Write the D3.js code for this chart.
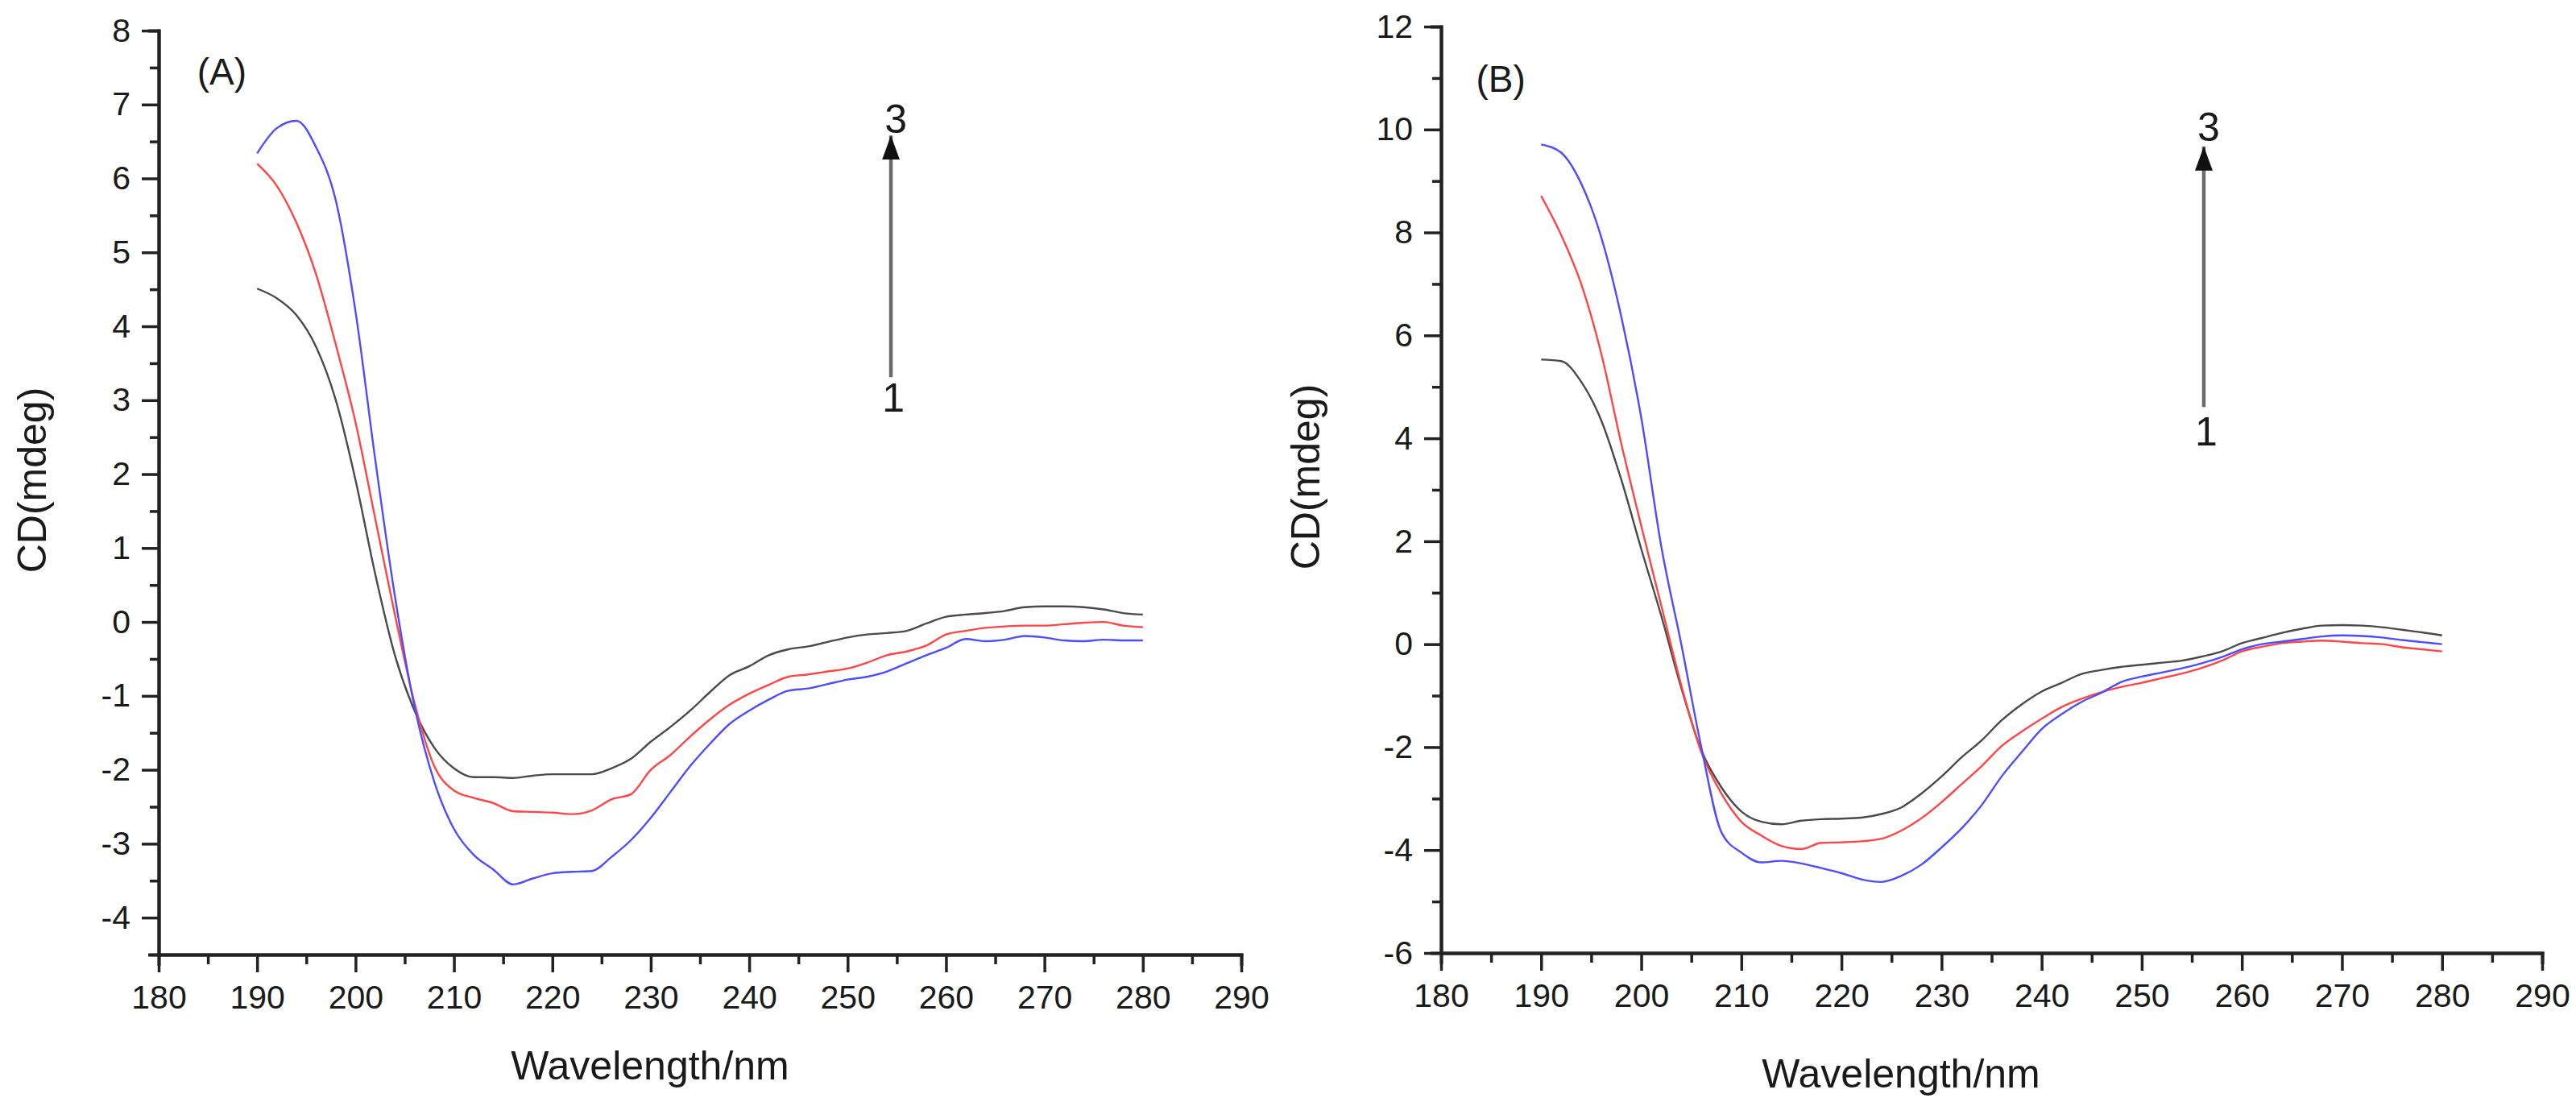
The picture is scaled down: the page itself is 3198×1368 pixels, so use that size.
<!DOCTYPE html>
<html>
<head>
<meta charset="utf-8">
<script src="https://cdn.jsdelivr.net/npm/d3@7"></script>
<style>
  body { margin: 0; background: #fff; }
  svg { display: block; }
  text { font-family: "Liberation Sans", Arial, sans-serif; fill: #1a1a1a; }
</style>
</head>
<body>
<svg id="chart" width="3198" height="1368"></svg>
<script>
// wavelength grid shared by every curve (nm)
const wavelengths = [190,192,194,196,198,200,202,204,206,208,210,212,214,216,218,220,
  222,224,226,228,230,232,234,236,238,240,242,244,246,248,250,252,254,256,258,260,
  262,264,266,268,270,272,274,276,278,280];

// panel (A) – CD in mdeg, curves 1 (black), 2 (red), 3 (blue)
const a1 = [4.51,4.38,4.15,3.72,3.0,1.92,0.65,-0.45,-1.2,-1.7,-1.98,-2.1,-2.1,-2.11,-2.08,-2.06,
  -2.06,-2.06,-1.98,-1.85,-1.62,-1.42,-1.2,-0.95,-0.72,-0.6,-0.45,-0.37,-0.33,-0.27,-0.21,-0.17,
  -0.15,-0.12,-0.02,0.07,0.1,0.12,0.15,0.2,0.21,0.21,0.2,0.17,0.12,0.1];
const a2 = [6.2,5.9,5.4,4.7,3.75,2.7,1.4,0.1,-1.1,-1.95,-2.28,-2.38,-2.45,-2.56,-2.57,-2.58,
  -2.6,-2.55,-2.4,-2.33,-2.0,-1.8,-1.55,-1.32,-1.12,-0.97,-0.85,-0.74,-0.71,-0.67,-0.63,-0.55,
  -0.45,-0.4,-0.32,-0.17,-0.12,-0.08,-0.06,-0.05,-0.05,-0.03,-0.01,0.0,-0.05,-0.07];
const a3 = [6.34,6.68,6.78,6.42,5.7,4.2,2.2,0.35,-1.15,-2.16,-2.8,-3.15,-3.35,-3.55,-3.47,-3.4,
  -3.38,-3.37,-3.18,-2.95,-2.65,-2.3,-1.95,-1.65,-1.38,-1.2,-1.05,-0.93,-0.9,-0.84,-0.78,-0.74,
  -0.67,-0.56,-0.45,-0.35,-0.23,-0.26,-0.24,-0.19,-0.21,-0.25,-0.26,-0.24,-0.25,-0.25];

// panel (B)
const b1 = [5.53,5.5,5.1,4.35,3.2,1.85,0.55,-0.85,-2.06,-2.78,-3.25,-3.45,-3.5,-3.43,-3.4,-3.39,
  -3.37,-3.3,-3.17,-2.9,-2.57,-2.2,-1.87,-1.48,-1.17,-0.92,-0.75,-0.58,-0.5,-0.44,-0.4,-0.36,
  -0.32,-0.24,-0.14,0.02,0.12,0.22,0.3,0.36,0.37,0.36,0.33,0.28,0.23,0.17];
const b2 = [8.71,7.95,7.0,5.65,3.9,2.3,0.75,-0.8,-2.1,-2.9,-3.45,-3.72,-3.92,-3.98,-3.86,-3.85,
  -3.83,-3.78,-3.62,-3.38,-3.07,-2.72,-2.37,-1.98,-1.7,-1.45,-1.22,-1.06,-0.93,-0.83,-0.75,-0.66,
  -0.57,-0.46,-0.32,-0.14,-0.05,0.02,0.05,0.07,0.05,0.02,0.0,-0.06,-0.1,-0.14];
const b3 = [9.71,9.55,8.95,7.91,6.37,4.4,1.9,0.0,-2.0,-3.65,-4.05,-4.24,-4.21,-4.26,-4.35,-4.45,
  -4.57,-4.62,-4.5,-4.28,-3.95,-3.58,-3.13,-2.57,-2.1,-1.65,-1.36,-1.12,-0.94,-0.73,-0.63,-0.55,
  -0.47,-0.37,-0.25,-0.1,0.0,0.05,0.1,0.15,0.17,0.16,0.13,0.08,0.04,0.0];

const seriesColors = ['#4a4a4a', '#ff4545', '#4d4dff'];

// tick values
const xTicks      = [180,190,200,210,220,230,240,250,260,270,280,290];
const xMinorTicks = [185,195,205,215,225,235,245,255,265,275,285];
const yTicksA      = [-4,-3,-2,-1,0,1,2,3,4,5,6,7,8];
const yMinorTicksA = [-4.5,-3.5,-2.5,-1.5,-0.5,0.5,1.5,2.5,3.5,4.5,5.5,6.5,7.5];
const yTicksB      = [-6,-4,-2,0,2,4,6,8,10,12];
const yMinorTicksB = [-5,-3,-1,1,3,5,7,9,11];

// "1 -> 3" arrow annotations: [wavelength, bottom value, tip value, label-3 value, label-1 value]
const arrowA = [254.4, 3.31, 6.58, 6.62, 2.85];
const arrowB = [256.2, 4.61, 9.67, 9.77, 3.86];

const svg = d3.select('#chart');

svg.append('defs').append('marker')
    .attr('id', 'head')
    .attr('viewBox', '0 0 30 22')
    .attr('markerUnits', 'userSpaceOnUse')
    .attr('markerWidth', 30)
    .attr('markerHeight', 22)
    .attr('refX', 30)
    .attr('refY', 11)
    .attr('orient', 'auto')
  .append('path')
    .attr('d', 'M0,0L30,11L0,22Z')
    .attr('fill', '#111');

const panels = [
  { label: '(A)', xr: [197, 1541], yd: [-4.5, 8], yr: [1185, 38],
    yTicks: yTicksA, yMinor: yMinorTicksA, series: [a1, a2, a3], arrow: arrowA,
    labelPos: [183.9, 7.27], xTitle: [807, 1340], yTitle: [57, 596] },
  { label: '(B)', xr: [1789, 3156], yd: [-6, 12], yr: [1183, 33],
    yTicks: yTicksB, yMinor: yMinorTicksB, series: [b1, b2, b3], arrow: arrowB,
    labelPos: [183.5, 10.74], xTitle: [2360, 1350], yTitle: [1638, 592] }
];

// plain hyphen for negatives, like the original
const fmt = d => String(d);

panels.forEach(p => {
  const x = d3.scaleLinear().domain([180, 290]).range(p.xr);
  const y = d3.scaleLinear().domain(p.yd).range(p.yr);
  const g = svg.append('g');

  // minor ticks first, so major ones sit on top
  g.append('g')
      .attr('transform', `translate(0,${p.yr[0]})`)
      .call(d3.axisBottom(x).tickValues(xMinorTicks).tickSize(12).tickFormat(''));
  g.append('g')
      .attr('transform', `translate(${p.xr[0]},0)`)
      .call(d3.axisLeft(y).tickValues(p.yMinor).tickSize(11).tickFormat(''));

  g.append('g')
      .attr('transform', `translate(0,${p.yr[0]})`)
      .call(d3.axisBottom(x).tickValues(xTicks).tickFormat(fmt)
        .tickSize(22).tickSizeOuter(0).tickPadding(16));
  g.append('g')
      .attr('transform', `translate(${p.xr[0]},0)`)
      .call(d3.axisLeft(y).tickValues(p.yTicks).tickFormat(fmt)
        .tickSize(21).tickSizeOuter(0).tickPadding(14));

  g.selectAll('.domain').attr('stroke', '#222').attr('stroke-width', 4).attr('stroke-linecap', 'square');
  g.selectAll('.tick line').attr('stroke', '#222').attr('stroke-width', 3.5);
  g.selectAll('.tick text')
      .style('font-size', '41px')
      .style('font-family', '"Liberation Sans", Arial, sans-serif')
      .attr('fill', '#1a1a1a');

  // curves
  const line = d3.line()
      .x(d => x(d[0]))
      .y(d => y(d[1]))
      .curve(d3.curveMonotoneX);

  p.series.forEach((vals, i) => {
    g.append('path')
        .datum(wavelengths.map((w, j) => [w, vals[j]]))
        .attr('d', line)
        .attr('fill', 'none')
        .attr('stroke', seriesColors[i])
        .attr('stroke-width', 2.4)
        .attr('stroke-linejoin', 'round');
  });

  // panel tag
  g.append('text')
      .attr('x', x(p.labelPos[0]))
      .attr('y', y(p.labelPos[1]))
      .style('font-size', '46px')
      .text(p.label);

  // arrow 1 -> 3
  const [aw, a0, a1v, l3, l1] = p.arrow;
  g.append('line')
      .attr('x1', x(aw)).attr('x2', x(aw))
      .attr('y1', y(a0)).attr('y2', y(a1v))
      .attr('stroke', '#6a6a6a')
      .attr('stroke-width', 4.5)
      .attr('marker-end', 'url(#head)');
  g.append('text')
      .attr('x', x(aw) + 6).attr('y', y(l3))
      .attr('text-anchor', 'middle')
      .style('font-size', '50px')
      .text('3');
  g.append('text')
      .attr('x', x(aw) + 3).attr('y', y(l1))
      .attr('text-anchor', 'middle')
      .style('font-size', '50px')
      .text('1');

  // axis titles
  g.append('text')
      .attr('x', p.xTitle[0]).attr('y', p.xTitle[1])
      .attr('text-anchor', 'middle')
      .style('font-size', '50px')
      .text('Wavelength/nm');
  g.append('text')
      .attr('transform', `translate(${p.yTitle[0]},${p.yTitle[1]}) rotate(-90)`)
      .attr('text-anchor', 'middle')
      .style('font-size', '50px')
      .text('CD(mdeg)');
});
</script>
</body>
</html>
